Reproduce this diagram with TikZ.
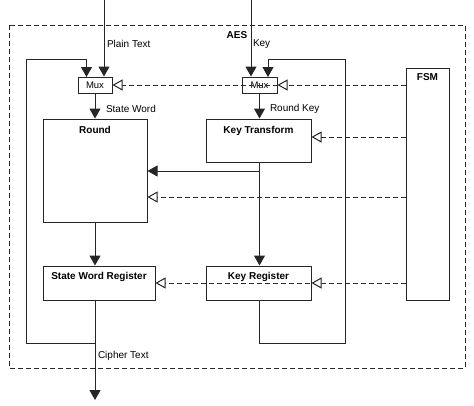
\documentclass[tikz,border=0pt]{standalone}
\usepackage{fontspec}
\setmainfont{Liberation Sans}
\usetikzlibrary{arrows.meta}
\begin{document}
\begin{tikzpicture}[x=1pt,y=-1pt,
  line width=1pt, draw=black!85,
  box/.style={draw, fill=white, inner sep=0pt},
  lbl/.style={anchor=north, inner sep=0pt, font=\fontsize{10}{12}\selectfont\bfseries},
  txt/.style={anchor=west, inner sep=0pt, font=\fontsize{10}{12}\selectfont},
  arr/.style={-{Triangle[length=10pt,width=11pt]}},
  ctl/.style={dash pattern=on 5pt off 3pt, -{Triangle[open,length=10pt,width=11pt,fill=white]}},
]
\useasboundingbox (0,0) rectangle (474,405);
% AES frame
\draw[dash pattern=on 5pt off 3pt] (9,25) rectangle (465,368);
\node[lbl, anchor=center] (aes) at (237,35) {AES};

% boxes
\node[box, minimum width=34pt, minimum height=16pt, font=\fontsize{9.5}{11}\selectfont] (mux) at (95,85) {Mux};
\node[box, minimum width=35pt, minimum height=16pt, font=\fontsize{9.5}{11}\selectfont] (kmux) at (259.5,85) {Mux};
\node[box, minimum width=104pt, minimum height=103pt, label={[lbl,yshift=-7pt]north:Round}] (round) at (95,170.5) {};
\node[box, minimum width=105pt, minimum height=43pt, label={[lbl,yshift=-7pt]north:Key Transform}] (kt) at (258.5,140.5) {};
\node[box, minimum width=112pt, minimum height=34pt, label={[lbl,yshift=-6pt]north:State Word Register}] (swr) at (99,283) {};
\node[box, minimum width=105pt, minimum height=34pt, label={[lbl,yshift=-6pt]north:Key Register}] (kr) at (258.5,283) {};
\node[box, minimum width=43pt, minimum height=232pt, label={[lbl,yshift=-6pt]north:FSM}] (fsm) at (427.5,184) {};

% inputs
\coordinate (ptin) at (104,0);
\coordinate (kin) at (251,0);
\coordinate (out) at (95,400);
\draw[arr] (ptin) -- (ptin |- mux.north);
\draw[arr] (kin) -- (kin |- kmux.north);
\node[txt] (pt) at (106.5,44) {Plain Text};
\node[txt] (kl) at (252.5,44) {Key};

% data path
\draw[arr] (mux.south) -- (mux.south |- round.north);
\node[txt] (sw) at (105.5,109) {State Word};
\draw[arr] (kmux.south) -- (kmux.south |- kt.north);
\node[txt] (rk) at (269.5,109) {Round Key};
\draw[arr] (kmux.south |- kt.south) -- (kmux.south |- kr.north);
\coordinate (br) at (259.5,171);
\draw[arr] (br) -- (round.east |- br);
\draw[arr] (round.south) -- (round.south |- swr.north);
\draw[arr] (round.south |- swr.south) -- (out);
\node[txt] (ct) at (97.5,356) {Cipher Text};

% feedback loops
\draw[arr] (round.south |- swr.south) -- (95,343) -- (26,343) -- (26,59) -- (86.5,59) -- (86.5,77);
\draw[arr] (kmux.south |- kr.south) -- (259.5,343) -- (345,343) -- (345,59) -- (268,59) -- (268,77);

% control
\draw[ctl] (fsm.west |- mux.east) -- (mux.east);
\draw[ctl] (fsm.west |- kmux.east) -- (kmux.east);
\draw[ctl] (fsm.west |- 0,137) -- (kt.east |- 0,137);
\draw[ctl] (fsm.west |- 0,197) -- (round.east |- 0,197);
\draw[ctl] (fsm.west |- swr.east) -- (swr.east);
\draw[ctl] (fsm.west |- kr.east) -- (kr.east);
\end{tikzpicture}
\end{document}
